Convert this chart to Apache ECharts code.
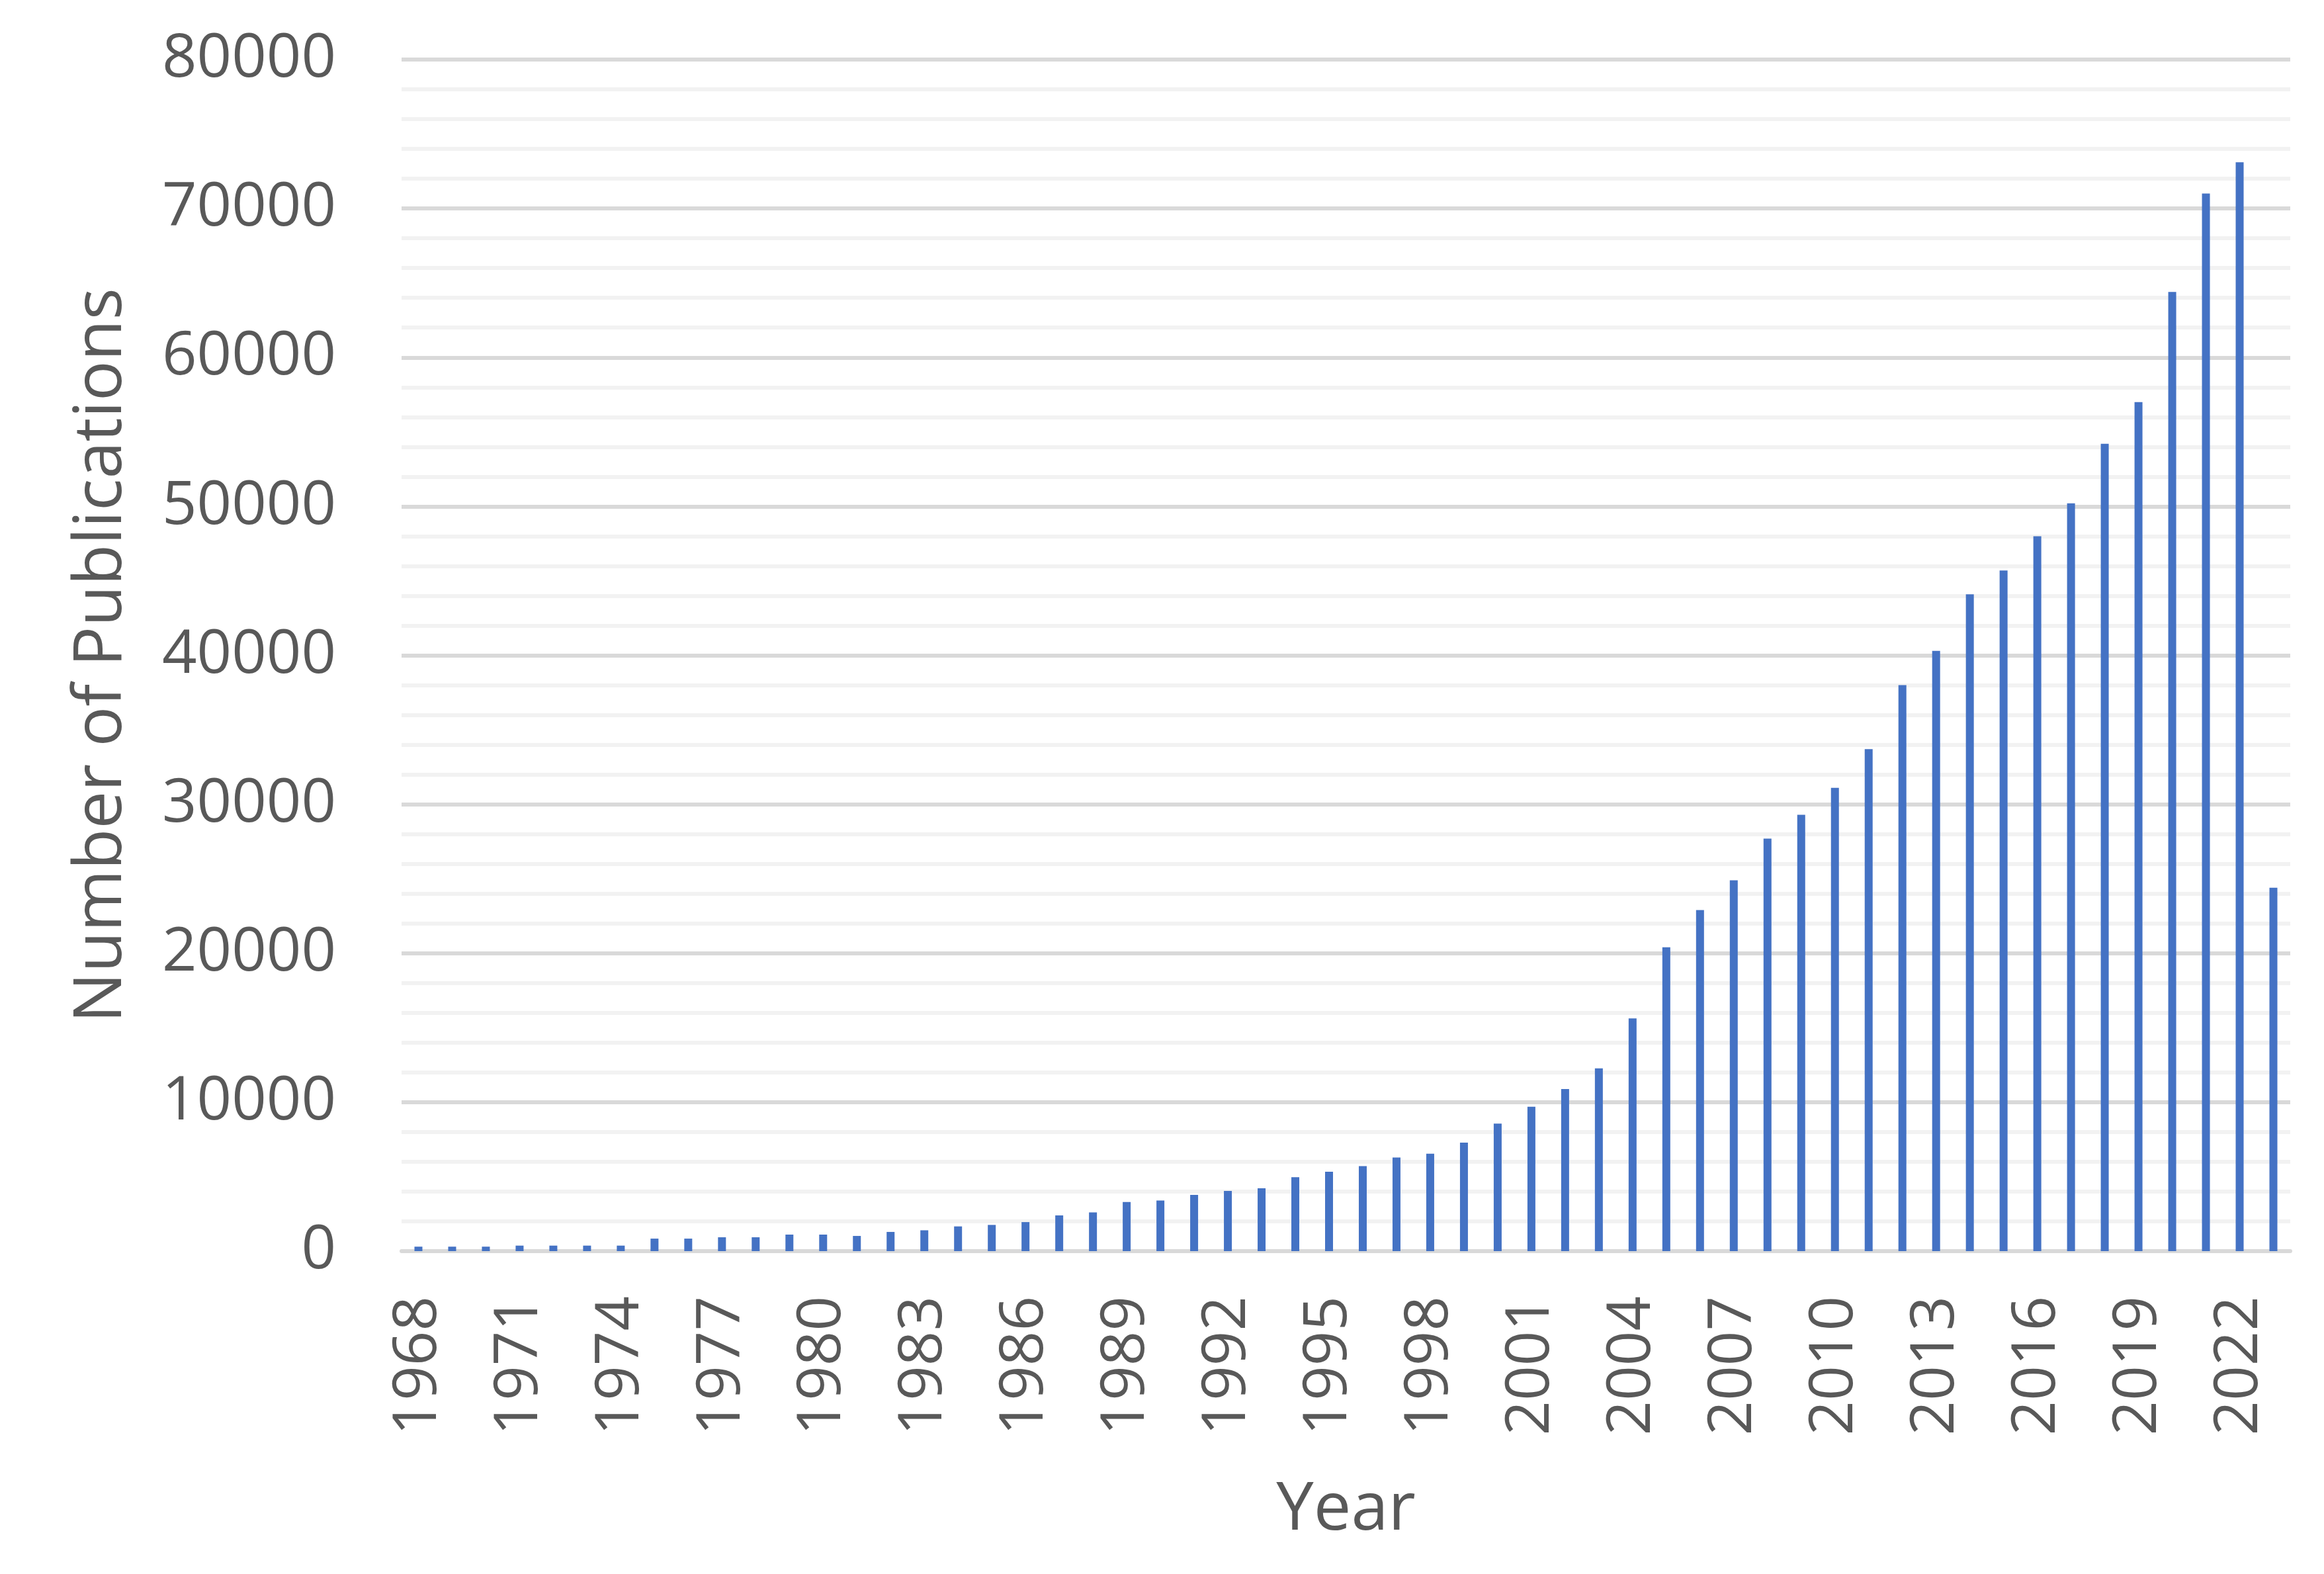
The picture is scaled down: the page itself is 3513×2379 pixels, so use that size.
<!DOCTYPE html>
<html>
<head>
<meta charset="utf-8">
<script src="https://cdn.jsdelivr.net/npm/echarts@6/dist/echarts.min.js"></script>
<style>
html,body{margin:0;padding:0;background:#fff;}
#chart{width:3513px;height:2379px;}
</style>
</head>
<body>
<div id="chart"></div>
<script>
const years = ['1968','1969','1970','1971','1972','1973','1974','1975','1976','1977','1978','1979','1980','1981','1982','1983','1984','1985','1986','1987','1988','1989','1990','1991','1992','1993','1994','1995','1996','1997','1998','1999','2000','2001','2002','2003','2004','2005','2006','2007','2008','2009','2010','2011','2012','2013','2014','2015','2016','2017','2018','2019','2020','2021','2022','2023'];
const publications = [300,300,300,370,370,370,370,840,840,930,930,1110,1110,1020,1290,1400,1660,1760,1950,2400,2600,3300,3400,3780,4040,4220,4960,5330,5710,6280,6540,7280,8560,9690,10880,12270,15630,20400,22900,24900,27700,29300,31100,33700,38000,40300,44100,45700,48000,50200,54200,57000,64400,71000,73100,24400];
const yTicks = {min: 0, max: 80000, interval: 10000};
const xTitle = 'Year';
const yTitle = 'Number of Publications';

const font = '"Open Sans", "Noto Sans", sans-serif';
const textColor = '#595959';
const chart = echarts.init(document.getElementById('chart'));
chart.setOption({
  backgroundColor: '#ffffff',
  animation: false,
  grid: {left: 607, right: 51, top: 90, bottom: 488, containLabel: false},
  xAxis: {
    type: 'category',
    data: years,
    name: xTitle,
    nameLocation: 'middle',
    nameGap: 342,
    nameTextStyle: {fontFamily: font, fontSize: 101, color: textColor},
    axisLine: {show: true, lineStyle: {color: '#D9D9D9', width: 6}},
    axisTick: {show: false},
    axisLabel: {interval: 2, rotate: 90, margin: 68, fontFamily: font, fontSize: 92, color: textColor},
    splitLine: {show: false}
  },
  yAxis: {
    type: 'value',
    min: yTicks.min,
    max: yTicks.max,
    interval: yTicks.interval,
    name: yTitle,
    nameLocation: 'middle',
    nameGap: 402,
    nameRotate: 90,
    nameTextStyle: {fontFamily: font, fontSize: 101, color: textColor},
    axisLine: {show: false},
    axisTick: {show: false},
    axisLabel: {margin: 99, fontFamily: font, fontSize: 92, color: textColor, formatter: function (v) { return String(v); }},
    splitLine: {show: true, lineStyle: {color: '#D9D9D9', width: 6}},
    minorTick: {show: false, splitNumber: 5},
    minorSplitLine: {show: true, lineStyle: {color: '#F2F2F2', width: 6}}
  },
  series: [{
    type: 'bar',
    data: publications,
    barWidth: 12,
    itemStyle: {color: '#4472C4'}
  }]
});
</script>
</body>
</html>
